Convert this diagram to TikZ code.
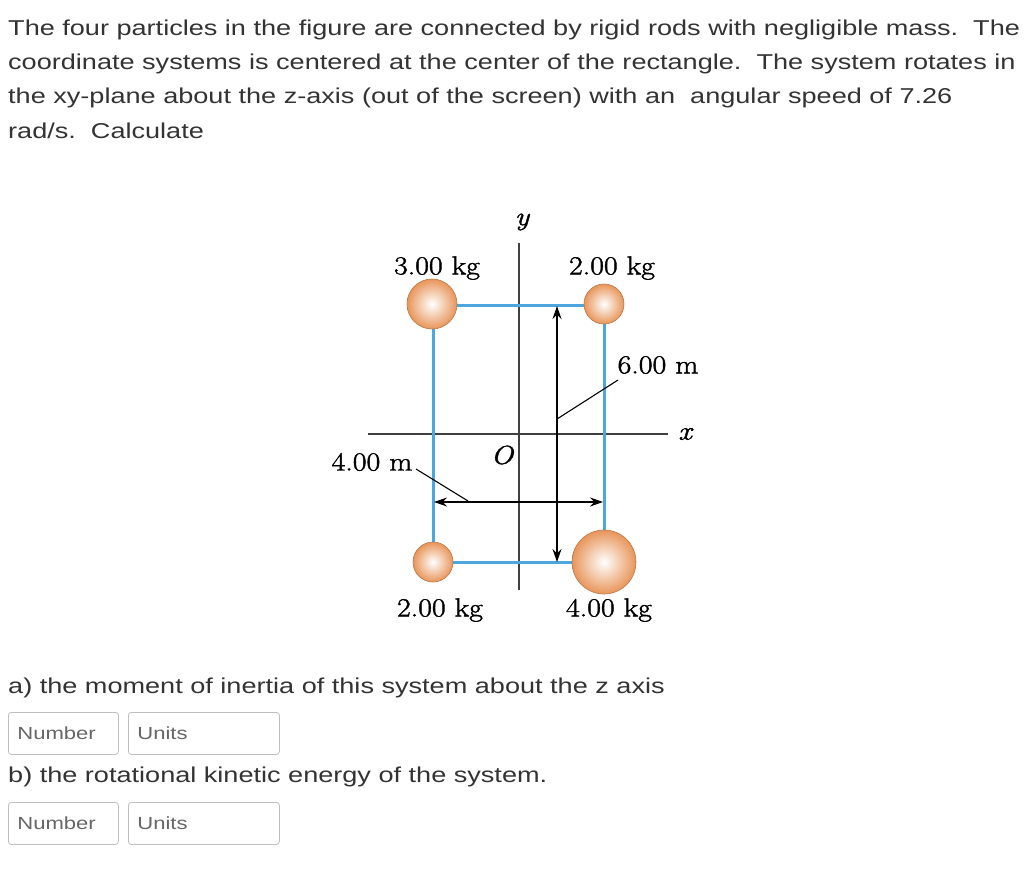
\documentclass[tikz,border=0pt]{standalone}
\usepackage{fontspec}
\setsansfont[FakeStretch=1.26]{Liberation Sans}
\newfontfamily\figfont[FakeStretch=1.15,FakeBold=1.6]{Latin Modern Roman}
\usetikzlibrary{arrows.meta}
\definecolor{rod}{HTML}{4DA6DD}
\definecolor{ball}{HTML}{E8955A}
\definecolor{txt}{HTML}{333333}
\tikzset{
  para/.style={anchor=west,font=\sffamily\fontsize{21.5}{34}\selectfont,text=txt,inner sep=0},
  lbl/.style={font=\figfont\fontsize{26}{28}\selectfont,inner sep=0},
  ballst/.style={circle,draw=ball!80!black,line width=0.6pt,inner color=white,outer color=ball,inner sep=0},
  inbox/.style={draw=black!25,rounded corners=3pt,line width=0.8pt,anchor=north west,font=\sffamily\fontsize{17.5}{20}\selectfont,text=black!60,inner xsep=9pt,align=left,text width=#1},
  axis/.style={black!75,line width=1.2pt},
  dim/.style={black,line width=1.1pt,{Stealth[length=13pt,width=9pt]}-{Stealth[length=13pt,width=9pt]}},
  lead/.style={black,line width=1.1pt},
}
\begin{document}
\begin{tikzpicture}[x=1pt,y=-1pt]
\useasboundingbox[fill=white] (0,0) rectangle (1024,871);
\node[para] (l1) at (8,30) {The four particles in the figure are connected by rigid rods with negligible mass.\ \ The};
\node[para] (l2) at (8,64) {coordinate systems is centered at the center of the rectangle.\ \ The system rotates in};
\node[para] (l3) at (8,98) {the xy-plane about the z-axis (out of the screen) with an\ \ angular speed of 7.26};
\node[para] (l4) at (8,131) {rad/s.\ \ Calculate};
% axes
\coordinate (yt) at (519,243); \coordinate (yb) at (519,590);
\coordinate (xl) at (368,434); \coordinate (xr) at (668,434);
\draw[axis] (yt) -- (yb);
\draw[axis] (xl) -- (xr);
% rectangle
\coordinate (A) at (433,305); \coordinate (B) at (604,305);
\coordinate (C) at (604,562); \coordinate (D) at (433,562);
\draw[rod,line width=3pt] (A) -- (B) -- (C) -- (D) -- cycle;
% dimension arrows
\coordinate (vt) at (557,306); \coordinate (vb) at (557,562);
\coordinate (hl) at (434,502); \coordinate (hr) at (603,502);
\draw[dim] (vt) -- (vb);
\draw[dim] (hl) -- (hr);
\coordinate (v1) at (557,419); \coordinate (v2) at (618,380);
\draw[lead] (v1) -- (v2);
\coordinate (h1) at (416,469); \coordinate (h2) at (468,501);
\draw[lead] (h1) -- (h2);
% balls
\node[ballst,minimum size=50pt] (m1) at (432,304) {};
\node[ballst,minimum size=40pt] (m2) at (604,304) {};
\node[ballst,minimum size=40pt] (m3) at (433,562) {};
\node[ballst,minimum size=64pt] (m4) at (604,562) {};
% labels
\node[lbl] (t1) at (437,268) {3.00 kg};
\node[lbl] (t2) at (612,268) {2.00 kg};
\node[lbl] (t3) at (440,610) {2.00 kg};
\node[lbl] (t4) at (609,610) {4.00 kg};
\node[lbl,fill=white,inner sep=1pt] (d6) at (658,365) {6.00 m};
\node[lbl] (d4) at (372,462) {4.00 m};
\node[lbl] (ly) at (522,222) {\itshape y};
\node[lbl] (lx) at (685,434) {\itshape x};
\node[lbl] (lo) at (502,455) {\itshape O};
% questions
\node[para] (qa) at (8,688) {a) the moment of inertia of this system about the z axis};
\node[inbox={92pt},minimum height=42pt] (n1) at (8,712) {Number};
\node[inbox={133pt},minimum height=42pt] (u1) at (128,712) {Units};
\node[para] (qb) at (8,777) {b) the rotational kinetic energy of the system.};
\node[inbox={92pt},minimum height=42pt] (n2) at (8,802) {Number};
\node[inbox={133pt},minimum height=42pt] (u2) at (128,802) {Units};
\end{tikzpicture}
\end{document}
